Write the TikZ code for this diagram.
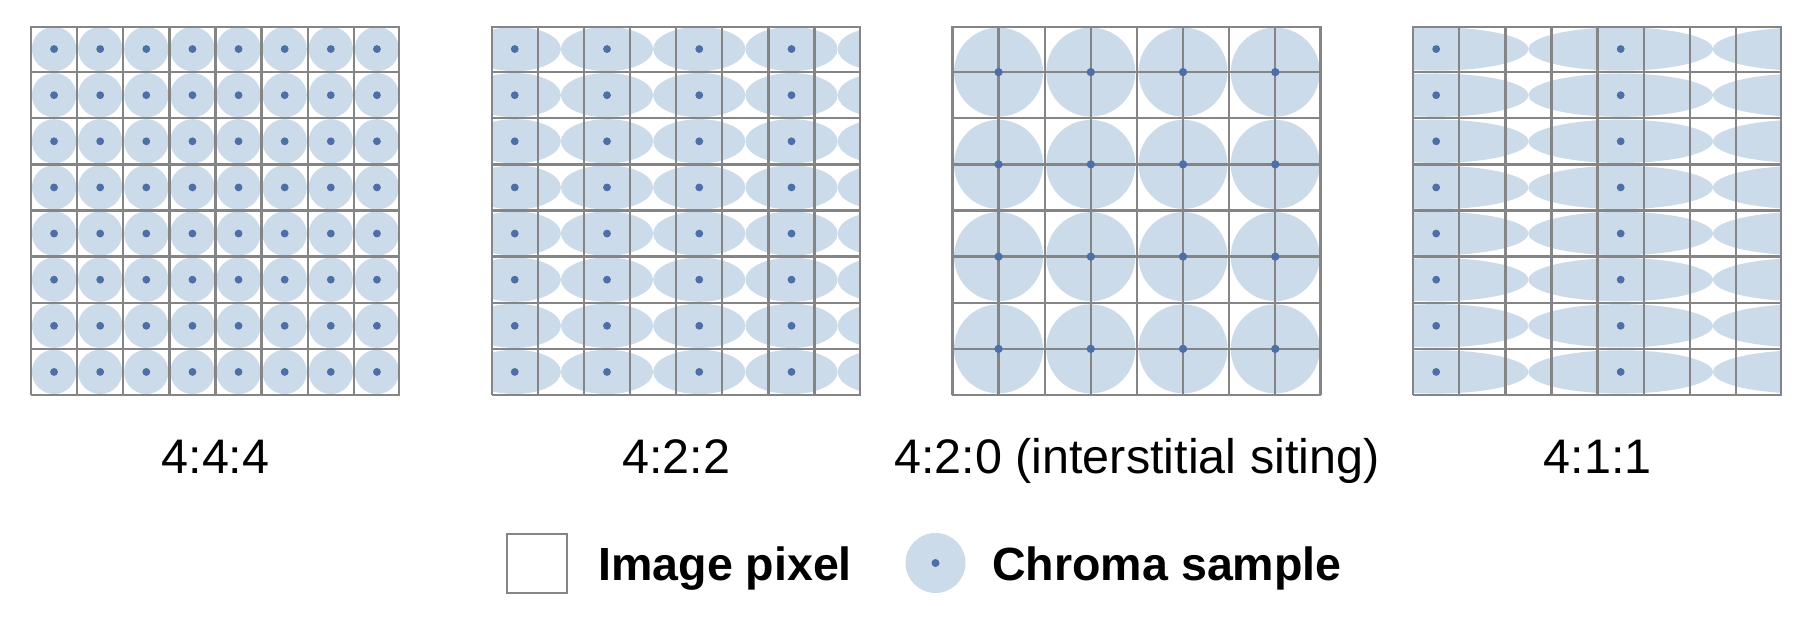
\documentclass[tikz,border=0pt]{standalone}
\usepackage{fontspec}
\setmainfont{Liberation Sans}

\definecolor{chromablue}{HTML}{CCDBEA}
\definecolor{dotblue}{HTML}{4C6FA8}
\definecolor{pixelgray}{HTML}{858585}

\tikzset{
	chromadisc/.style = {fill = chromablue},
	sampledot/.style = {fill = dotblue},
	pixelgrid/.style = {draw = pixelgray, line width = 1.3pt},
	ratiolabel/.style = {anchor = base, inner sep = 0, font = \fontsize{27.6}{33}\selectfont},
	legendtext/.style = {anchor = base west, inner sep = 0, font = \fontsize{26.5}{32}\selectfont\bfseries}
}

\begin{document}
\begin{tikzpicture}[x = 0.02cm, y = 0.02cm]
	%	canvas
	\useasboundingbox (0, 0) rectangle (1810, 634);
	
	%	panel setup
	\def\cell{46.125}
	\def\ybot{239}
	\def\rdot{0.085}
	
	%	4:4:4
	\begin{scope}[shift = {(31, \ybot)}, scale = \cell]
		\foreach \i in {0, ..., 7}
			\foreach \j in {0, ..., 7}
				\fill[chromadisc] (\i + 0.5, \j + 0.5) circle (0.48);
		\draw[pixelgrid, step = 1] (0, 0) grid (8, 8);
		\foreach \i in {0, ..., 7}
			\foreach \j in {0, ..., 7}
				\fill[sampledot] (\i + 0.5, \j + 0.5) circle (\rdot);
	\end{scope}
	\node[ratiolabel] (lbl444) at (215.5, 160) {4:4:4};
	
	%	4:2:2
	\begin{scope}[shift = {(491.7, \ybot)}, scale = \cell]
		\begin{scope}
			\clip (0, 0) rectangle (8, 8);
			\foreach \i in {0, 2, ..., 8}
				\foreach \j in {0, ..., 7}
					\fill[chromadisc] (\i + 0.5, \j + 0.5) ellipse [x radius = 1, y radius = 0.48];
		\end{scope}
		\draw[pixelgrid, step = 1] (0, 0) grid (8, 8);
		\foreach \i in {0, 2, ..., 6}
			\foreach \j in {0, ..., 7}
				\fill[sampledot] (\i + 0.5, \j + 0.5) circle (\rdot);
	\end{scope}
	\node[ratiolabel] (lbl422) at (676.2, 160) {4:2:2};
	
	%	4:2:0 - samples between the pixels
	\begin{scope}[shift = {(952.4, \ybot)}, scale = \cell]
		\foreach \i in {1, 3, ..., 7}
			\foreach \j in {1, 3, ..., 7}
				\fill[chromadisc] (\i, \j) circle (0.965);
		\draw[pixelgrid, step = 1] (0, 0) grid (8, 8);
		\foreach \i in {1, 3, ..., 7}
			\foreach \j in {1, 3, ..., 7}
				\fill[sampledot] (\i, \j) circle (0.09);
	\end{scope}
	\node[ratiolabel] (lbl420) at (1136.9, 160) {4:2:0 (interstitial siting)};
	
	%	4:1:1
	\begin{scope}[shift = {(1413.1, \ybot)}, scale = \cell]
		\begin{scope}
			\clip (0, 0) rectangle (8, 8);
			\foreach \i in {0, 4, 8}
				\foreach \j in {0, ..., 7}
					\fill[chromadisc] (\i + 0.5, \j + 0.5) ellipse [x radius = 2, y radius = 0.47];
		\end{scope}
		\draw[pixelgrid, step = 1] (0, 0) grid (8, 8);
		\foreach \i in {0, 4}
			\foreach \j in {0, ..., 7}
				\fill[sampledot] (\i + 0.5, \j + 0.5) circle (\rdot);
	\end{scope}
	\node[ratiolabel] (lbl411) at (1597.6, 160) {4:1:1};
	
	%	legend
	\draw[pixelgrid] (507, 41) rectangle (567, 100);
	\node[legendtext] (keypixel) at (598, 53) {Image pixel};
	\fill[chromadisc] (935.5, 71) circle (30);
	\fill[sampledot] (935.5, 71) circle (4);
	\node[legendtext] (keychroma) at (992, 53) {Chroma sample};
\end{tikzpicture}
\end{document}
